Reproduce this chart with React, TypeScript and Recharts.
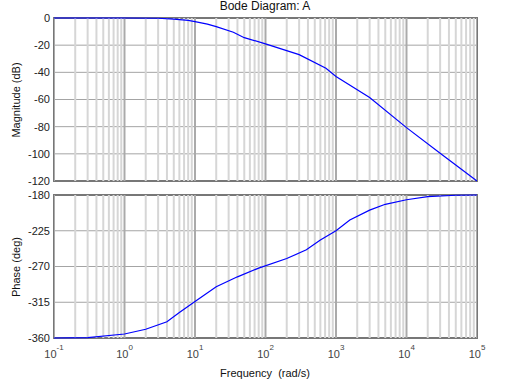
import React from 'react';
import {
  LineChart,
  Line,
  XAxis,
  YAxis,
  CartesianGrid,
  ReferenceLine,
  ReferenceArea,
} from 'recharts';

const FONT = '"Liberation Sans", Arial, sans-serif';

// frequency response
const magFreq = [0.1, 1, 3, 5, 8, 10, 15, 20, 35, 50, 100, 300, 720, 1000, 3000, 10000, 30000, 100000];
const magDb = [0, 0, -0.2, -0.8, -1.8, -2.7, -4.5, -6.4, -10.5, -14.5, -19, -27, -37, -43, -58.6, -80.7, -99.5, -120];

const phaseFreq = [0.1, 0.3, 1, 2, 4, 6, 10, 20, 40, 80, 200, 380, 600, 1000, 1570, 3000, 5000, 10000, 20000, 50000, 100000];
const phaseDeg = [-360, -359.5, -355, -349, -339.5, -328, -314, -295.5, -283, -272, -260, -249, -236.5, -225, -211.5, -199, -191.7, -186, -182, -180.3, -180];

const decades = [0.1, 1, 10, 100, 1000, 10000, 100000];
const decadeExp = ['-1', '0', '1', '2', '3', '4', '5'];
const minorMult = [2, 3, 4, 5, 6, 7, 8, 9];
const magTicks = [-120, -100, -80, -60, -40, -20, 0];
const phaseTicks = [-360, -315, -270, -225, -180];

const magData = magFreq.map((f, i) => ({ f, v: magDb[i] }));
const phaseData = phaseFreq.map((f, i) => ({ f, v: phaseDeg[i] }));
const minorGrid = decades.slice(0, -1).flatMap((d) => minorMult.map((m) => +(d * m).toPrecision(3)));

const W = 523;
const H = 387;
const LEFT = 54;
const RIGHT = 46;

const yTick = { fontSize: 11, fill: '#222', fontFamily: FONT };

function DecadeTick({ x, y, payload }: any) {
  const i = decades.indexOf(payload.value);
  return (
    <text x={x} y={y + 12} textAnchor="middle" fontSize={11} fill="#444" fontFamily={FONT}>
      10
      <tspan dy={-8} fontSize={8}>
        {decadeExp[i]}
      </tspan>
    </text>
  );
}

function grid(y1: number, y2: number) {
  return [
    ...minorGrid.map((g) => (
      <ReferenceLine key={'m' + g} x={g} stroke="#d6d6d6" strokeWidth={2} ifOverflow="hidden" />
    )),
    ...decades.map((d) => (
      <ReferenceLine key={'d' + d} x={d} stroke="#aaa" strokeWidth={2} ifOverflow="hidden" />
    )),
    <ReferenceArea
      key="box"
      x1={0.1}
      x2={100000}
      y1={y1}
      y2={y2}
      fill="none"
      stroke="#777"
      strokeWidth={2}
    />,
  ];
}

export default function App() {
  return (
    <div style={{ position: 'absolute', left: 0, top: 0, width: W, height: H, background: '#fff' }}>
      <div style={{ position: 'absolute', left: 0, top: 0 }}>
        <LineChart width={W} height={H} data={magData} margin={{ top: 18, right: RIGHT, left: 0, bottom: H - 181 }}>
          <CartesianGrid vertical={false} stroke="#a4a4a4" />
          <XAxis dataKey="f" type="number" scale="log" domain={[0.1, 100000]} ticks={decades} hide allowDataOverflow />
          <YAxis
            type="number"
            domain={[-120, 0]}
            ticks={magTicks}
            width={LEFT}
            tick={yTick}
            tickLine={false}
            axisLine={false}
            tickSize={0}
            tickMargin={4}
            interval={0}
          />
          {grid(-120, 0)}
          <Line dataKey="v" stroke="#0000ff" strokeWidth={1.2} dot={false} isAnimationActive={false} type="linear" />
        </LineChart>
      </div>
      <div style={{ position: 'absolute', left: 0, top: 0 }}>
        <LineChart width={W} height={H} data={phaseData} margin={{ top: 195, right: RIGHT, left: 0, bottom: 19 }}>
          <CartesianGrid vertical={false} stroke="#a4a4a4" />
          <XAxis
            dataKey="f"
            type="number"
            scale="log"
            domain={[0.1, 100000]}
            ticks={decades}
            interval={0}
            height={30}
            tick={<DecadeTick />}
            tickLine={false}
            axisLine={false}
            allowDataOverflow
          />
          <YAxis
            type="number"
            domain={[-360, -180]}
            ticks={phaseTicks}
            width={LEFT}
            tick={yTick}
            tickLine={false}
            axisLine={false}
            tickSize={0}
            tickMargin={4}
            interval={0}
          />
          {grid(-360, -180)}
          <Line dataKey="v" stroke="#0000ff" strokeWidth={1.2} dot={false} isAnimationActive={false} type="linear" />
        </LineChart>
      </div>
      <svg width={W} height={H} style={{ position: 'absolute', left: 0, top: 0, pointerEvents: 'none' }}>
        <text x={265} y={10} textAnchor="middle" fontSize={12} fill="#111" fontFamily={FONT}>
          Bode Diagram: A
        </text>
        <text transform="translate(20,100) rotate(-90)" textAnchor="middle" fontSize={11} fill="#111" fontFamily={FONT}>
          Magnitude (dB)
        </text>
        <text transform="translate(20,267) rotate(-90)" textAnchor="middle" fontSize={11} fill="#111" fontFamily={FONT}>
          Phase (deg)
        </text>
        <text x={265} y={377} textAnchor="middle" fontSize={11} fill="#111" fontFamily={FONT} style={{ whiteSpace: 'pre' }}>
          {'Frequency  (rad/s)'}
        </text>
      </svg>
    </div>
  );
}
